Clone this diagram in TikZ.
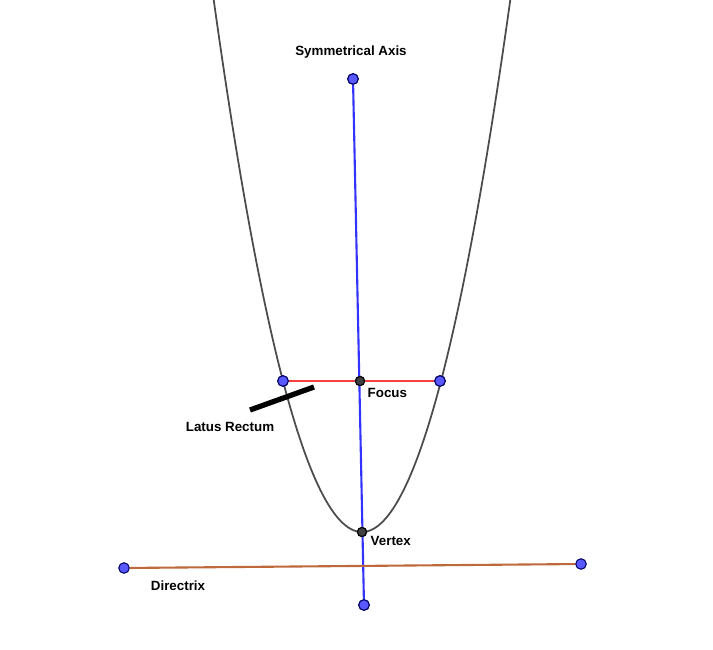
\documentclass[tikz,border=0pt]{standalone}
\usepackage{fontspec}
\setmainfont{Liberation Sans}
\usetikzlibrary{positioning}
\tikzset{
    pt/.style={circle, fill=blue!65, draw=blue!40!black, line width=0.3pt, minimum size=3pt, inner sep=0pt},
    dpt/.style={circle, fill=black!75, draw=black, line width=0.3pt, minimum size=2.6pt, inner sep=0pt},
    lbl/.style={font=\fontsize{3.8}{4.5}\selectfont\bfseries, inner sep=0pt}
}
\definecolor{dirbrown}{RGB}{190,105,60}
\begin{document}
\begin{tikzpicture}
    \useasboundingbox (0,0) rectangle (7.13,6.49);
    % Parabola
    \begin{scope}
        \clip (0,0) rectangle (7.13,6.49);
        \draw[black!70, line width=0.5pt, domain=2.12:5.12, samples=120] plot (\x, {1.17+2.42*(\x-3.62)^2});
    \end{scope}
    % Points
    \node[pt] (top) at (3.53,5.70) {};
    \node[pt] (bot) at (3.64,0.44) {};
    \node[pt] (lr1) at (2.83,2.68) {};
    \node[pt] (lr2) at (4.40,2.68) {};
    \node[pt] (d1) at (1.24,0.81) {};
    \node[pt] (d2) at (5.81,0.85) {};
    \node[dpt] (focus) at (3.60,2.68) {};
    \node[dpt] (vertex) at (3.62,1.17) {};
    % Lines
    \draw[blue!80, line width=0.6pt] (top) -- (bot);
    \draw[red!75, line width=0.6pt] (lr1) -- (lr2);
    \draw[dirbrown, line width=0.6pt] (d1) -- (d2);
    \coordinate (m1) at (2.50,2.39);
    \coordinate (m2) at (3.14,2.62);
    \draw[black, line width=1.5pt] (m1) -- (m2);
    \node[pt] at (lr1) {};
    \node[pt] at (lr2) {};
    \node[pt] at (top) {};
    \node[pt] at (bot) {};
    \node[dpt] at (focus) {};
    \node[dpt] at (vertex) {};
    % Labels
    \node[lbl] at (3.51,5.97) {Symmetrical Axis};
    \node[lbl, anchor=west] at (3.67,2.56) {Focus};
    \node[lbl] at (2.30,2.22) {Latus Rectum};
    \node[lbl, anchor=west] at (3.70,1.08) {Vertex};
    \node[lbl] at (1.78,0.63) {Directrix};
\end{tikzpicture}
\end{document}
